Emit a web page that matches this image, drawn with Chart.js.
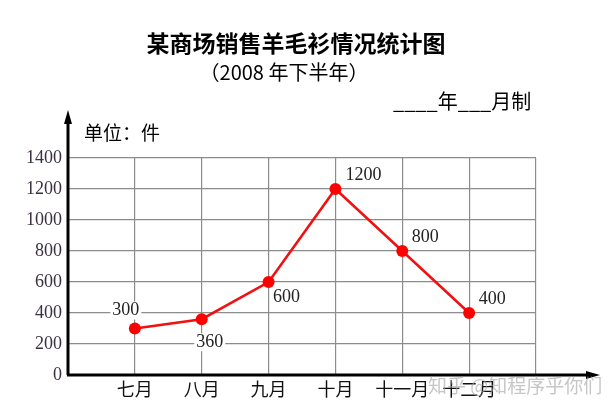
<!DOCTYPE html>
<html>
<head>
<meta charset="utf-8">
<script src="https://cdn.jsdelivr.net/npm/chart.js@4/dist/chart.umd.min.js"></script>
<style>
  html, body { margin: 0; padding: 0; background: #fff; }
  #wrap { width: 616px; height: 415px; }
</style>
</head>
<body>
<div id="wrap"><canvas id="myChart"></canvas></div>
<script>
  // blank slots at both ends so the months sit on grid lines 1..6
  const months = ['', '七月', '八月', '九月', '十月', '十一月', '十二月', ''];
  const sales = [null, 300, 360, 600, 1200, 800, 400, null];
  const yTicks = [0, 200, 400, 600, 800, 1000, 1200, 1400];

  // where each value label sits relative to its point (dx, dy)
  const labelOffsets = [null, [-9, -18], [8, 23], [18, 15], [28, -14], [23, -14], [23, -14], null];

  const serif = '"Liberation Serif", "DejaVu Serif", serif';
  const cjk = '"Noto Sans CJK SC", "Noto Sans", sans-serif';

  const decor = {
    id: 'decor',
    afterDraw(chart) {
      const ctx = chart.ctx;
      const area = chart.chartArea;
      ctx.save();

      // axes with arrows
      ctx.strokeStyle = '#000';
      ctx.fillStyle = '#000';
      ctx.lineWidth = 3;
      ctx.beginPath();
      ctx.moveTo(area.left, area.bottom);
      ctx.lineTo(area.left, 120);
      ctx.moveTo(area.left - 1, area.bottom);
      ctx.lineTo(590, area.bottom);
      ctx.stroke();
      ctx.beginPath();
      ctx.moveTo(area.left, 110);
      ctx.lineTo(area.left - 4, 124);
      ctx.lineTo(area.left + 4, 124);
      ctx.closePath();
      ctx.fill();
      ctx.beginPath();
      ctx.moveTo(600, area.bottom);
      ctx.lineTo(586, area.bottom - 4);
      ctx.lineTo(586, area.bottom + 4);
      ctx.closePath();
      ctx.fill();

      // watermark
      ctx.textBaseline = 'middle';
      ctx.textAlign = 'left';
      ctx.font = '19px ' + cjk;
      ctx.fillStyle = 'rgba(160,160,160,0.6)';
      ctx.fillText('知乎 @知程序乎你们', 428, 386);

      // titles
      ctx.fillStyle = '#000';
      ctx.textAlign = 'center';
      ctx.font = 'bold 23px ' + cjk;
      ctx.fillText('某商场销售羊毛衫情况统计图', 296, 43);
      ctx.font = '20px ' + cjk;
      ctx.fillText('（2008 年下半年）', 284, 72);
      ctx.textAlign = 'left';
      ctx.font = '20px ' + cjk;
      ctx.fillText('____年___月制', 393, 101);
      ctx.font = '19px ' + cjk;
      ctx.fillText('单位：件', 84, 133);

      // value labels
      const meta = chart.getDatasetMeta(0);
      ctx.font = '18px ' + serif;
      ctx.textAlign = 'center';
      meta.data.forEach((pt, i) => {
        if (sales[i] == null) return;
        const off = labelOffsets[i];
        const x = pt.x + off[0], y = pt.y + off[1];
        ctx.fillStyle = '#fff';
        const w = ctx.measureText(String(sales[i])).width;
        ctx.fillRect(x - w / 2 - 2, y - 9, w + 4, 18);
        ctx.fillStyle = '#222';
        ctx.fillText(String(sales[i]), x, y);
      });

      ctx.restore();
    }
  };

  const data = {
    labels: months,
    datasets: [{
      data: sales,
      borderColor: '#f01010',
      backgroundColor: '#ff0000',
      borderWidth: 2.5,
      pointRadius: 6,
      pointBorderWidth: 0,
      pointBackgroundColor: '#ff0000',
      tension: 0,
      spanGaps: false,
      clip: false
    }]
  };

  const config = {
    type: 'line',
    data,
    options: {
      responsive: true,
      maintainAspectRatio: false,
      animation: false,
      layout: { padding: { left: 0, top: 158, right: 80, bottom: 0 } },
      plugins: {
        legend: { display: false },
        tooltip: { enabled: false }
      },
      scales: {
        x: {
          type: 'category',
          offset: false,
          border: { display: false },
          grid: { color: '#8c8c8c', lineWidth: 1.2, drawTicks: false },
          ticks: {
            color: '#111',
            font: { family: cjk, size: 18 },
            padding: 3,
            maxRotation: 0,
            autoSkip: false
          },
          afterFit(scale) { scale.height = 40; }
        },
        y: {
          min: 0,
          max: 1400,
          border: { display: false },
          grid: { color: '#8c8c8c', lineWidth: 1.2, drawTicks: false },
          afterBuildTicks(scale) { scale.ticks = yTicks.map(v => ({ value: v })); },
          ticks: {
            color: '#3a3040',
            font: { family: serif, size: 18 },
            padding: 6,
            callback: v => String(v)
          },
          afterFit(scale) { scale.width = 68; }
        }
      }
    },
    plugins: [decor]
  };

  var myChart = new Chart(
    document.getElementById('myChart'),
    config
  );
</script>
</body>
</html>
